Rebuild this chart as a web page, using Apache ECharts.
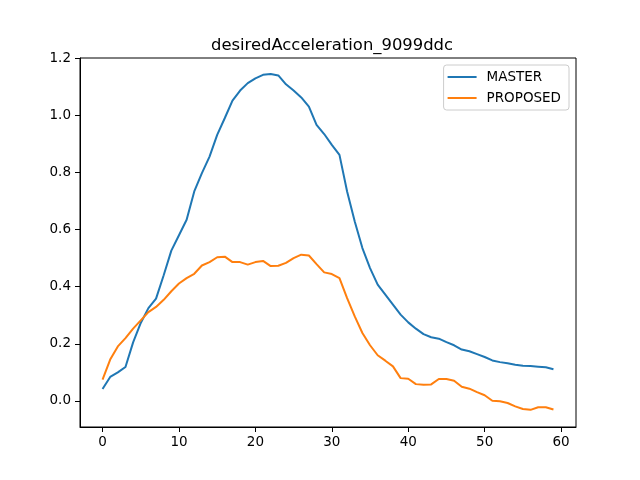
<!DOCTYPE html>
<html>
<head>
<meta charset="utf-8">
<script src="https://cdn.jsdelivr.net/npm/echarts@6/dist/echarts.min.js"></script>
<style>html,body{margin:0;padding:0;background:#fff}#c{width:640px;height:480px}</style>
</head>
<body>
<div id="c"></div>
<script>
const xValues = Array.from({length: 60}, (_, i) => i);
const master = [0.042,0.084,0.10,0.119,0.205,0.273,0.325,0.358,0.44,0.526,
  0.58,0.634,0.733,0.797,0.855,0.931,0.99,1.051,1.086,1.112,
  1.129,1.141,1.144,1.139,1.108,1.086,1.062,1.03,0.966,0.934,
  0.896,0.861,0.733,0.628,0.535,0.465,0.407,0.372,0.337,0.302,
  0.275,0.253,0.234,0.223,0.218,0.206,0.195,0.18,0.174,0.164,
  0.154,0.142,0.136,0.132,0.127,0.123,0.122,0.12,0.118,0.111];
const proposed = [0.075,0.145,0.191,0.22,0.253,0.282,0.311,0.329,0.354,0.384,
  0.411,0.43,0.445,0.474,0.486,0.503,0.505,0.486,0.486,0.477,
  0.486,0.49,0.472,0.473,0.483,0.5,0.512,0.509,0.479,0.45,
  0.444,0.43,0.36,0.296,0.238,0.195,0.16,0.141,0.121,0.08,
  0.078,0.059,0.057,0.058,0.077,0.077,0.071,0.05,0.043,0.031,
  0.02,0.001,-0.001,-0.007,-0.019,-0.028,-0.031,-0.022,-0.022,-0.03];
const xTicks = [0,10,20,30,40,50,60];
const yTicks = [0,0.2,0.4,0.6,0.8,1.0,1.2];
const title = 'desiredAcceleration_9099ddc';
const seriesNames = ['MASTER','PROPOSED'];

const font = 'DejaVu Sans';
const chart = echarts.init(document.getElementById('c'), null, {renderer: 'canvas'});
chart.setOption({
  animation: false,
  backgroundColor: '#fff',
  title: {text: title, left: 327, textAlign: 'center', top: 33, textStyle: {fontFamily: font, fontSize: 16.4, fontWeight: 'normal', color: '#000'}},
  legend: {
    data: seriesNames, orient: 'vertical', right: 71, top: 65,
    backgroundColor: 'rgba(255,255,255,0.8)', borderColor: '#cccccc', borderWidth: 1, borderRadius: 3,
    padding: [5, 8, 5, 4], itemGap: 7, itemWidth: 29, itemHeight: 14,
    icon: 'path://M0,6 L29,6 L29,8 L0,8 Z',
    textStyle: {fontFamily: font, fontSize: 13.5, color: '#000', padding: [0,0,0,5]}
  },
  grid: {left: 80, right: 64, top: 58, bottom: 53, show: true, borderColor: '#000', borderWidth: 1, backgroundColor: 'transparent'},
  xAxis: {
    type: 'value', min: -2.95, max: 61.95,
    axisLine: {show: true, onZero: false, lineStyle: {color: '#000', width: 1}},
    axisTick: {show: true, length: 5, lineStyle: {color: '#000'}, customValues: xTicks},
    axisLabel: {fontFamily: font, fontSize: 13.5, color: '#000', margin: 8, customValues: xTicks, formatter: v => String(v)},
    splitLine: {show: false}
  },
  yAxis: {
    type: 'value', min: -0.091, max: 1.2,
    axisLine: {show: true, onZero: false, lineStyle: {color: '#000', width: 1}},
    axisTick: {show: true, length: 5, lineStyle: {color: '#000'}, customValues: yTicks},
    axisLabel: {fontFamily: font, fontSize: 13.5, color: '#000', margin: 9, customValues: yTicks, formatter: v => v.toFixed(1)},
    splitLine: {show: false}
  },
  series: [
    {name: seriesNames[0], type: 'line', data: xValues.map((x, i) => [x, master[i]]), showSymbol: false, symbol: 'none',
     lineStyle: {color: '#1f77b4', width: 2}, itemStyle: {color: '#1f77b4'}},
    {name: seriesNames[1], type: 'line', data: xValues.map((x, i) => [x, proposed[i]]), showSymbol: false, symbol: 'none',
     lineStyle: {color: '#ff7f0e', width: 2}, itemStyle: {color: '#ff7f0e'}}
  ]
});
</script>
</body>
</html>
